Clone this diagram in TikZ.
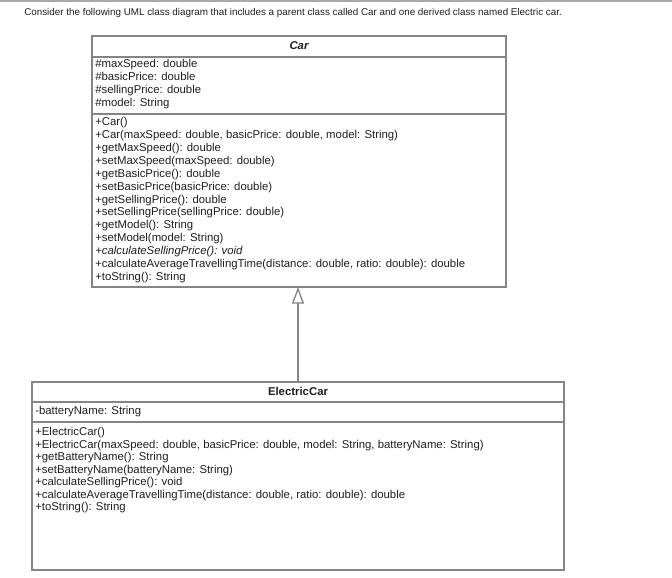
\documentclass[tikz,border=0pt]{standalone}
\usepackage{fontspec}
\setmainfont{Liberation Sans}
\usetikzlibrary{arrows.meta,positioning,calc}
\definecolor{BoxGray}{HTML}{858585}
\definecolor{RuleGray}{HTML}{A8A8A8}
\definecolor{InkBlack}{HTML}{1E1E1E}

\begin{document}
\begin{tikzpicture}[x=0.75pt,y=-0.75pt,
  compartment/.style={draw=BoxGray,line width=1pt,inner sep=0pt,outer sep=0pt,anchor=north west},
  member/.style={anchor=base west,inner sep=0pt,text=InkBlack,font=\fontsize{8.52}{10}\selectfont},
  classname/.style={anchor=base,inner sep=0pt,text=InkBlack,font=\fontsize{8.52}{10}\selectfont\bfseries},
  inherit/.style={-{Triangle[open,length=12.5pt,width=9pt]},draw=BoxGray,line width=1pt}]
\useasboundingbox (0,0) rectangle (672,578);
\draw[RuleGray,line width=1.2pt] (0,0.8) -- (672,0.8);
\node[anchor=base west,inner sep=0pt,text=InkBlack,font=\fontsize{7.38}{8}\selectfont] (intro) at (24,15.5)
  {Consider the following UML class diagram that includes a parent class called Car and one derived class named Electric car.};

% parent class
\node[compartment,minimum width=310.5pt,minimum height=15.75pt] (carHead) at (92,36) {};
\node[compartment,minimum width=310.5pt,minimum height=42.75pt,below=0pt of carHead] (carFields) {};
\node[compartment,minimum width=310.5pt,minimum height=129.75pt,below=0pt of carFields] (carOps) {};
\node[classname,font=\fontsize{8.52}{10}\selectfont\bfseries\itshape] (carName) at (299,50) {Car};
\foreach \txt [count=\i from 0] in {{\#maxSpeed: double},{\#basicPrice: double},{\#sellingPrice: double},{\#model: String}}
  \node[member] (carField\i) at (95,67.5+13*\i) {\txt};
\foreach \txt [count=\i from 0] in {{+Car()},
  {+Car(maxSpeed: double, basicPrice: double, model: String)},
  {+getMaxSpeed(): double},{+setMaxSpeed(maxSpeed: double)},
  {+getBasicPrice(): double},{+setBasicPrice(basicPrice: double)},
  {+getSellingPrice(): double},{+setSellingPrice(sellingPrice: double)},
  {+getModel(): String},{+setModel(model: String)},
  {\itshape +calculateSellingPrice(): void},
  {+calculateAverageTravellingTime(distance: double, ratio: double): double},
  {+toString(): String}}
  \node[member] (carOp\i) at (95,125.5+12.92*\i) {\txt};

% derived class
\node[compartment,minimum width=399pt,minimum height=15pt] (ecHead) at (32,382) {};
\node[compartment,minimum width=399pt,minimum height=15pt,below=0pt of ecHead] (ecFields) {};
\node[compartment,minimum width=399pt,minimum height=111pt,below=0pt of ecFields] (ecOps) {};
\node[classname] (ecName) at (298,395) {ElectricCar};
\node[member] (ecField0) at (35,414.5) {-batteryName: String};
\foreach \txt [count=\i from 0] in {{+ElectricCar()},
  {+ElectricCar(maxSpeed: double, basicPrice: double, model: String, batteryName: String)},
  {+getBatteryName(): String},{+setBatteryName(batteryName: String)},
  {+calculateSellingPrice(): void},
  {+calculateAverageTravellingTime(distance: double, ratio: double): double},
  {+toString(): String}}
  \node[member] (ecOp\i) at (35,435.5+12.5*\i) {\txt};

% generalisation
\draw[inherit] (ecHead.north) -- (ecHead.north |- carOps.south);
\end{tikzpicture}
\end{document}
